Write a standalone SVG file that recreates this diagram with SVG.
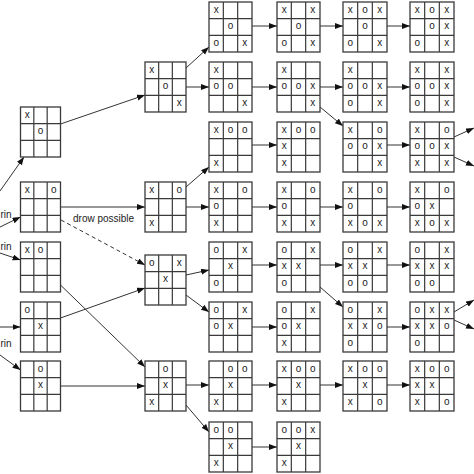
<svg xmlns="http://www.w3.org/2000/svg" xmlns:xlink="http://www.w3.org/1999/xlink" width="474" height="474" viewBox="0 0 474 474">
<style>
.gr rect{fill:#fff;stroke:#3a3a3a;stroke-width:1.3}
.gr path{fill:none;stroke:#3a3a3a;stroke-width:1.2}
.m{font-family:"Liberation Sans",Arial,sans-serif;font-size:10px;text-anchor:middle;fill:#222}
.lbl{font-family:"Liberation Sans",Arial,sans-serif;font-size:10px;fill:#222}
.c line{stroke:#333;stroke-width:1;marker-end:url(#ah)}
.c line.d{stroke-dasharray:4,3}
</style>
<defs>
<marker id="ah" markerUnits="userSpaceOnUse" markerWidth="9" markerHeight="7" refX="8" refY="3" orient="auto">
<path d="M0,0L8,3L0,6z" fill="#111"/>
</marker>
<g id="g40" class="gr"><rect width="40" height="50"/><path d="M13.33,0V50M26.67,0V50M0,16.67H40M0,33.33H40"/></g>
<g id="g41" class="gr"><rect width="41" height="50"/><path d="M13.67,0V50M27.33,0V50M0,16.67H41M0,33.33H41"/></g>
<g id="g43" class="gr"><rect width="43" height="50"/><path d="M14.33,0V50M28.67,0V50M0,16.67H43M0,33.33H43"/></g>
<g id="g44" class="gr"><rect width="44" height="50"/><path d="M14.67,0V50M29.33,0V50M0,16.67H44M0,33.33H44"/></g>
</defs>
<rect width="474" height="474" fill="#fff"/>

<g id="connectors" class="c">
<line x1="0" y1="191" x2="24" y2="157"/>
<line x1="0" y1="227" x2="20.5" y2="217"/>
<line x1="0" y1="253" x2="20.5" y2="260"/>
<line x1="0" y1="327" x2="20.5" y2="327"/>
<line x1="0" y1="355" x2="20.5" y2="370"/>
<line x1="60.5" y1="124" x2="145" y2="95"/>
<line x1="60.5" y1="207" x2="145" y2="207"/>
<line class="d" x1="61" y1="220" x2="145" y2="265"/>
<line x1="60.5" y1="285" x2="145" y2="367"/>
<line x1="60.5" y1="318" x2="145" y2="288"/>
<line x1="60.5" y1="386" x2="145" y2="386"/>
<line x1="186" y1="68" x2="209" y2="47"/>
<line x1="186" y1="87" x2="209" y2="87"/>
<line x1="186" y1="187" x2="209" y2="167"/>
<line x1="186" y1="207" x2="209" y2="207"/>
<line x1="186" y1="275" x2="209" y2="270"/>
<line x1="186" y1="295" x2="209" y2="312"/>
<line x1="186" y1="385" x2="209" y2="385"/>
<line x1="186" y1="405" x2="209" y2="432"/>
<line x1="252" y1="26" x2="277" y2="26"/>
<line x1="252" y1="87" x2="277" y2="87"/>
<line x1="252" y1="145" x2="277" y2="145"/>
<line x1="252" y1="207" x2="277" y2="207"/>
<line x1="252" y1="265" x2="277" y2="265"/>
<line x1="252" y1="327" x2="277" y2="327"/>
<line x1="252" y1="385" x2="277" y2="385"/>
<line x1="252" y1="447" x2="277" y2="447"/>
<line x1="320" y1="26" x2="343" y2="26"/>
<line x1="320" y1="87" x2="343" y2="87"/>
<line x1="320" y1="107" x2="343" y2="126"/>
<line x1="320" y1="207" x2="343" y2="207"/>
<line x1="320" y1="265" x2="343" y2="265"/>
<line x1="320" y1="287" x2="343" y2="307"/>
<line x1="320" y1="385" x2="343" y2="385"/>
<line x1="387" y1="26" x2="410" y2="26"/>
<line x1="387" y1="87" x2="410" y2="87"/>
<line x1="387" y1="145" x2="410" y2="145"/>
<line x1="387" y1="207" x2="410" y2="207"/>
<line x1="387" y1="265" x2="410" y2="265"/>
<line x1="387" y1="327" x2="410" y2="327"/>
<line x1="387" y1="385" x2="410" y2="385"/>
<line x1="454" y1="137" x2="474" y2="128"/>
<line x1="454" y1="157" x2="474" y2="166"/>
<line x1="454" y1="312" x2="474" y2="300"/>
<line x1="454" y1="320" x2="474" y2="329"/>
</g>

<g id="labels">
<text class="lbl" x="0.5" y="217.5">rin</text>
<text class="lbl" x="0.5" y="249.5">rin</text>
<text class="lbl" x="0.5" y="346.5">rin</text>
<text class="lbl" x="73" y="221.5">drow possible</text>
</g>

<!-- column 0 -->
<g id="c0r0" transform="translate(20.5,107)"><use xlink:href="#g40"/><text class="m" x="6.67" y="10.5">x</text><text class="m" x="20" y="27">o</text></g>
<g id="c0r1" transform="translate(20.5,182)"><use xlink:href="#g40"/><text class="m" x="6.67" y="10.5">x</text><text class="m" x="33.33" y="10.5">o</text></g>
<g id="c0r2" transform="translate(20.5,242)"><use xlink:href="#g40"/><text class="m" x="6.67" y="10.5">x</text><text class="m" x="20" y="10.5">o</text></g>
<g id="c0r3" transform="translate(20.5,302)"><use xlink:href="#g40"/><text class="m" x="6.67" y="10.5">o</text><text class="m" x="20" y="27">x</text></g>
<g id="c0r4" transform="translate(20.5,361)"><use xlink:href="#g40"/><text class="m" x="20" y="10.5">o</text><text class="m" x="20" y="27">x</text></g>

<!-- column 1 -->
<g id="c1r0" transform="translate(145,62)"><use xlink:href="#g41"/><text class="m" x="6.8" y="10.5">x</text><text class="m" x="20.5" y="27">o</text><text class="m" x="34.2" y="43.5">x</text></g>
<g id="c1r1" transform="translate(145,182)"><use xlink:href="#g41"/><text class="m" x="6.8" y="10.5">x</text><text class="m" x="34.2" y="10.5">o</text><text class="m" x="6.8" y="43.5">x</text></g>
<g id="c1r2" transform="translate(145,255)"><use xlink:href="#g41"/><text class="m" x="6.8" y="10.5">o</text><text class="m" x="34.2" y="10.5">x</text><text class="m" x="20.5" y="27">x</text></g>
<g id="c1r3" transform="translate(145,361)"><use xlink:href="#g41"/><text class="m" x="20.5" y="10.5">o</text><text class="m" x="20.5" y="27">x</text><text class="m" x="6.8" y="43.5">x</text></g>

<!-- column 2 -->
<g id="c2r0" transform="translate(209,2)"><use xlink:href="#g43"/><text class="m" x="7.2" y="10.5">x</text><text class="m" x="21.5" y="27">o</text><text class="m" x="7.2" y="43.5">o</text><text class="m" x="35.8" y="43.5">x</text></g>
<g id="c2r1" transform="translate(209,62)"><use xlink:href="#g43"/><text class="m" x="7.2" y="10.5">x</text><text class="m" x="7.2" y="27">o</text><text class="m" x="21.5" y="27">o</text><text class="m" x="35.8" y="43.5">x</text></g>
<g id="c2r2" transform="translate(209,122)"><use xlink:href="#g43"/><text class="m" x="7.2" y="10.5">x</text><text class="m" x="21.5" y="10.5">o</text><text class="m" x="35.8" y="10.5">o</text><text class="m" x="7.2" y="43.5">x</text></g>
<g id="c2r3" transform="translate(209,182)"><use xlink:href="#g43"/><text class="m" x="7.2" y="10.5">x</text><text class="m" x="35.8" y="10.5">o</text><text class="m" x="7.2" y="27">o</text><text class="m" x="7.2" y="43.5">x</text></g>
<g id="c2r4" transform="translate(209,242)"><use xlink:href="#g43"/><text class="m" x="7.2" y="10.5">o</text><text class="m" x="35.8" y="10.5">x</text><text class="m" x="21.5" y="27">x</text><text class="m" x="7.2" y="43.5">o</text></g>
<g id="c2r5" transform="translate(209,302)"><use xlink:href="#g43"/><text class="m" x="7.2" y="10.5">o</text><text class="m" x="35.8" y="10.5">x</text><text class="m" x="7.2" y="27">o</text><text class="m" x="21.5" y="27">x</text></g>
<g id="c2r6" transform="translate(209,361)"><use xlink:href="#g43"/><text class="m" x="21.5" y="10.5">o</text><text class="m" x="35.8" y="10.5">o</text><text class="m" x="21.5" y="27">x</text><text class="m" x="7.2" y="43.5">x</text></g>
<g id="c2r7" transform="translate(209,422)"><use xlink:href="#g43"/><text class="m" x="7.2" y="10.5">o</text><text class="m" x="21.5" y="10.5">o</text><text class="m" x="21.5" y="27">x</text><text class="m" x="7.2" y="43.5">x</text></g>

<!-- column 3 -->
<g id="c3r0" transform="translate(277,2)"><use xlink:href="#g43"/><text class="m" x="7.2" y="10.5">x</text><text class="m" x="35.8" y="10.5">x</text><text class="m" x="21.5" y="27">o</text><text class="m" x="7.2" y="43.5">o</text><text class="m" x="35.8" y="43.5">x</text></g>
<g id="c3r1" transform="translate(277,62)"><use xlink:href="#g43"/><text class="m" x="7.2" y="10.5">x</text><text class="m" x="7.2" y="27">o</text><text class="m" x="21.5" y="27">o</text><text class="m" x="35.8" y="27">x</text><text class="m" x="35.8" y="43.5">x</text></g>
<g id="c3r2" transform="translate(277,122)"><use xlink:href="#g43"/><text class="m" x="7.2" y="10.5">x</text><text class="m" x="21.5" y="10.5">o</text><text class="m" x="35.8" y="10.5">o</text><text class="m" x="7.2" y="27">x</text><text class="m" x="7.2" y="43.5">x</text></g>
<g id="c3r3" transform="translate(277,182)"><use xlink:href="#g43"/><text class="m" x="7.2" y="10.5">x</text><text class="m" x="35.8" y="10.5">o</text><text class="m" x="7.2" y="27">o</text><text class="m" x="7.2" y="43.5">x</text><text class="m" x="35.8" y="43.5">x</text></g>
<g id="c3r4" transform="translate(277,242)"><use xlink:href="#g43"/><text class="m" x="7.2" y="10.5">o</text><text class="m" x="35.8" y="10.5">x</text><text class="m" x="7.2" y="27">x</text><text class="m" x="21.5" y="27">x</text><text class="m" x="7.2" y="43.5">o</text></g>
<g id="c3r5" transform="translate(277,302)"><use xlink:href="#g43"/><text class="m" x="7.2" y="10.5">o</text><text class="m" x="35.8" y="10.5">x</text><text class="m" x="7.2" y="27">o</text><text class="m" x="21.5" y="27">x</text><text class="m" x="7.2" y="43.5">x</text></g>
<g id="c3r6" transform="translate(277,361)"><use xlink:href="#g43"/><text class="m" x="7.2" y="10.5">x</text><text class="m" x="21.5" y="10.5">o</text><text class="m" x="35.8" y="10.5">o</text><text class="m" x="21.5" y="27">x</text><text class="m" x="7.2" y="43.5">x</text></g>
<g id="c3r7" transform="translate(277,422)"><use xlink:href="#g43"/><text class="m" x="7.2" y="10.5">o</text><text class="m" x="21.5" y="10.5">o</text><text class="m" x="35.8" y="10.5">x</text><text class="m" x="21.5" y="27">x</text><text class="m" x="7.2" y="43.5">x</text></g>

<!-- column 4 -->
<g id="c4r0" transform="translate(343,2)"><use xlink:href="#g44"/><text class="m" x="7.3" y="10.5">x</text><text class="m" x="22" y="10.5">o</text><text class="m" x="36.7" y="10.5">x</text><text class="m" x="22" y="27">o</text><text class="m" x="7.3" y="43.5">o</text><text class="m" x="36.7" y="43.5">x</text></g>
<g id="c4r1" transform="translate(343,62)"><use xlink:href="#g44"/><text class="m" x="7.3" y="10.5">x</text><text class="m" x="7.3" y="27">o</text><text class="m" x="22" y="27">o</text><text class="m" x="36.7" y="27">x</text><text class="m" x="7.3" y="43.5">o</text><text class="m" x="36.7" y="43.5">x</text></g>
<g id="c4r2" transform="translate(343,122)"><use xlink:href="#g44"/><text class="m" x="7.3" y="10.5">x</text><text class="m" x="36.7" y="10.5">o</text><text class="m" x="7.3" y="27">o</text><text class="m" x="22" y="27">o</text><text class="m" x="36.7" y="27">x</text><text class="m" x="36.7" y="43.5">x</text></g>
<g id="c4r3" transform="translate(343,182)"><use xlink:href="#g44"/><text class="m" x="7.3" y="10.5">x</text><text class="m" x="36.7" y="10.5">o</text><text class="m" x="7.3" y="27">o</text><text class="m" x="7.3" y="43.5">x</text><text class="m" x="22" y="43.5">o</text><text class="m" x="36.7" y="43.5">x</text></g>
<g id="c4r4" transform="translate(343,242)"><use xlink:href="#g44"/><text class="m" x="7.3" y="10.5">o</text><text class="m" x="36.7" y="10.5">x</text><text class="m" x="7.3" y="27">x</text><text class="m" x="22" y="27">x</text><text class="m" x="7.3" y="43.5">o</text><text class="m" x="22" y="43.5">o</text></g>
<g id="c4r5" transform="translate(343,302)"><use xlink:href="#g44"/><text class="m" x="7.3" y="10.5">o</text><text class="m" x="36.7" y="10.5">x</text><text class="m" x="7.3" y="27">x</text><text class="m" x="22" y="27">x</text><text class="m" x="36.7" y="27">o</text><text class="m" x="7.3" y="43.5">o</text></g>
<g id="c4r6" transform="translate(343,361)"><use xlink:href="#g44"/><text class="m" x="7.3" y="10.5">x</text><text class="m" x="22" y="10.5">o</text><text class="m" x="36.7" y="10.5">o</text><text class="m" x="22" y="27">x</text><text class="m" x="7.3" y="43.5">x</text><text class="m" x="36.7" y="43.5">o</text></g>

<!-- column 5 -->
<g id="c5r0" transform="translate(410,2)"><use xlink:href="#g44"/><text class="m" x="7.3" y="10.5">x</text><text class="m" x="22" y="10.5">o</text><text class="m" x="36.7" y="10.5">x</text><text class="m" x="22" y="27">o</text><text class="m" x="36.7" y="27">x</text><text class="m" x="7.3" y="43.5">o</text><text class="m" x="36.7" y="43.5">x</text></g>
<g id="c5r1" transform="translate(410,62)"><use xlink:href="#g44"/><text class="m" x="7.3" y="10.5">x</text><text class="m" x="36.7" y="10.5">x</text><text class="m" x="7.3" y="27">o</text><text class="m" x="22" y="27">o</text><text class="m" x="36.7" y="27">x</text><text class="m" x="7.3" y="43.5">o</text><text class="m" x="36.7" y="43.5">x</text></g>
<g id="c5r2" transform="translate(410,122)"><use xlink:href="#g44"/><text class="m" x="7.3" y="10.5">x</text><text class="m" x="36.7" y="10.5">o</text><text class="m" x="7.3" y="27">o</text><text class="m" x="22" y="27">o</text><text class="m" x="36.7" y="27">x</text><text class="m" x="7.3" y="43.5">x</text><text class="m" x="36.7" y="43.5">x</text></g>
<g id="c5r3" transform="translate(410,182)"><use xlink:href="#g44"/><text class="m" x="7.3" y="10.5">x</text><text class="m" x="36.7" y="10.5">o</text><text class="m" x="7.3" y="27">o</text><text class="m" x="22" y="27">x</text><text class="m" x="7.3" y="43.5">x</text><text class="m" x="22" y="43.5">o</text><text class="m" x="36.7" y="43.5">x</text></g>
<g id="c5r4" transform="translate(410,242)"><use xlink:href="#g44"/><text class="m" x="7.3" y="10.5">o</text><text class="m" x="36.7" y="10.5">x</text><text class="m" x="7.3" y="27">x</text><text class="m" x="22" y="27">x</text><text class="m" x="36.7" y="27">x</text><text class="m" x="7.3" y="43.5">o</text><text class="m" x="22" y="43.5">o</text></g>
<g id="c5r5" transform="translate(410,302)"><use xlink:href="#g44"/><text class="m" x="7.3" y="10.5">o</text><text class="m" x="22" y="10.5">x</text><text class="m" x="36.7" y="10.5">x</text><text class="m" x="7.3" y="27">x</text><text class="m" x="22" y="27">x</text><text class="m" x="36.7" y="27">o</text><text class="m" x="7.3" y="43.5">o</text></g>
<g id="c5r6" transform="translate(410,361)"><use xlink:href="#g44"/><text class="m" x="7.3" y="10.5">x</text><text class="m" x="22" y="10.5">o</text><text class="m" x="36.7" y="10.5">o</text><text class="m" x="7.3" y="27">x</text><text class="m" x="22" y="27">x</text><text class="m" x="7.3" y="43.5">x</text><text class="m" x="36.7" y="43.5">o</text></g>
</svg>
